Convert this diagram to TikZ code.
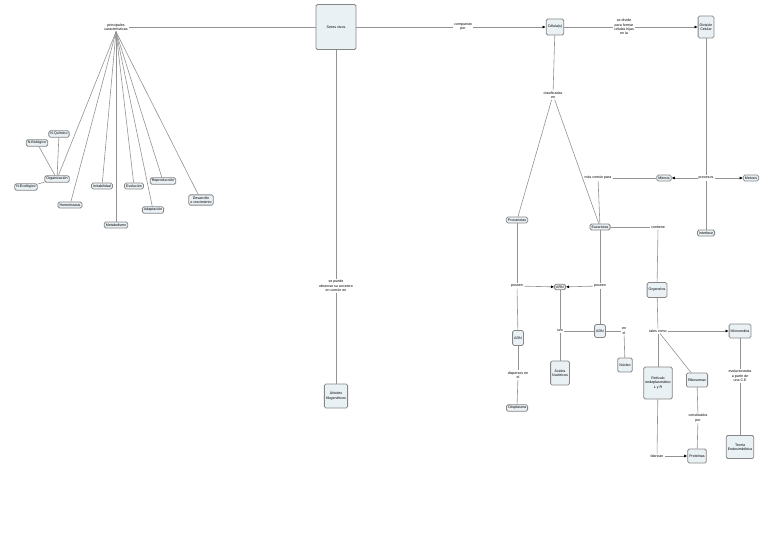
\documentclass[tikz,border=0pt]{standalone}
\usepackage{fontspec}
\setmainfont{Liberation Sans}
\usepackage{tikz}
\usetikzlibrary{arrows.meta, positioning}

\definecolor{boxfill}{RGB}{234,241,245}

\begin{document}
\begin{tikzpicture}[
    x=1pt, y=-1pt,
    concept/.style={
        rectangle, draw=gray!95, rounded corners=1.5pt,
        fill=boxfill, line width=0.8pt,
        inner sep=1.6pt, align=center,
        font=\fontsize{3.6}{4.4}\selectfont
    },
    link/.style={
        fill=white, inner sep=1pt, align=center,
        font=\fontsize{3.6}{4.4}\selectfont
    },
    line/.style={draw=gray!85, line width=0.6pt},
    arrow/.style={line, -{Latex[length=3.2pt, width=3pt, black]}}
]
\useasboundingbox (0,0) rectangle (768,543);

% ── Seres vivos y caracteristicas (izquierda) ──
\node[concept, minimum width=40, minimum height=45] (seres) at (336,27) {Seres vivos};
\node[link] (carac) at (116,27) {principales\\características};
\node[concept] (org) at (57,179) {Organización};
\node[concept] (nbio) at (37,143) {N.Biológico};
\node[concept] (nqui) at (59,134) {N.Químico};
\node[concept] (neco) at (26,187) {N.Ecológico};
\node[concept] (homeo) at (70,205) {Homeóstasis};
\node[concept] (irrit) at (102,186) {Irritabilidad};
\node[concept] (metab) at (116,225) {Metabolismo};
\node[concept] (evolu) at (134,186) {Evolución};
\node[concept] (repro) at (163,181) {Reproducción};
\node[concept] (adapt) at (153,210) {Adaptación};
\node[concept] (desa) at (201,200) {Desarrollo\\o crecimiento};

\draw[line] (carac) -- (seres);
\foreach \c in {org, homeo, irrit, metab, evolu, repro, adapt, desa}
    \draw[line] (carac.south) -- (\c);
\draw[line] (org) -- (nbio);
\draw[line] (org) -- (nqui);
\draw[line] (org) -- (neco);

% ── Ancestro comun ──
\node[link] (observar) at (336,286) {se puede\\observar su ancestro\\en común en};
\node[concept, minimum height=24] (arboles) at (336,396) {Árboles\\filogenéticos};
\draw[line] (seres) -- (observar);
\draw[line] (observar) -- (arboles);

% ── Celulas y division ──
\node[link] (comp) at (463,27) {compuesto\\por};
\node[concept, minimum height=16] (cel) at (555,27) {Célula(s)};
\node[link] (divide) at (624,27) {se divide\\para formar\\células hijas\\en la};
\node[concept, minimum height=22] (divcel) at (706,27) {División\\Celular};
\node[link] (procesos) at (706,178) {procesos};
\node[concept] (mitosis) at (664,178) {Mitosis};
\node[concept] (meiosis) at (751,178) {Meiosis};
\node[concept] (interfase) at (706,233) {Interfase};

\draw[line] (seres) -- (comp);
\draw[arrow] (comp) -- (cel);
\draw[line] (cel) -- (divide);
\draw[arrow] (divide) -- (divcel);
\draw[line] (divcel) -- (procesos);
\draw[line] (procesos) -- (interfase);
\draw[arrow] (procesos) -- (mitosis);
\draw[arrow] (procesos) -- (meiosis);

% ── Clasificacion ──
\node[link] (clas) at (553,95) {clasificadas\\en};
\node[concept] (proc) at (517,220) {Procariotas};
\node[concept] (euc) at (600,227) {Eucariotas};
\node[link] (comun) at (598,178) {más común para};
\node[link] (contiene) at (658,227) {contiene};

\draw[line] (cel) -- (clas);
\draw[line] (clas) -- (proc);
\draw[line] (clas) -- (euc);
\draw[line] (euc) -- (comun);
\draw[line] (comun) -- (mitosis);
\draw[line] (euc) -- (contiene);

% ── Material genetico ──
\node[link] (poseenp) at (517,286) {poseen};
\node[link] (poseene) at (600,286) {poseen};
\node[concept] (arn) at (560,287) {ARN};
\node[concept, minimum height=15] (adnp) at (518,338) {ADN};
\node[concept, minimum height=13] (adne) at (600,331) {ADN};
\node[link] (dispersos) at (518,375) {dispersos en\\el};
\node[concept] (citoplasma) at (517,408) {Citoplasma};
\node[link] (son) at (560,331) {son};
\node[concept, minimum height=24] (acidos) at (560,373) {Ácidos\\Nucleicos};
\node[link] (enel) at (624,331) {en\\el};
\node[concept, minimum height=14] (nucleo) at (625,365) {Núcleo};

\draw[line] (proc) -- (poseenp);
\draw[arrow] (poseenp) -- (arn);
\draw[line] (poseenp) -- (adnp);
\draw[line] (adnp) -- (dispersos);
\draw[line] (dispersos) -- (citoplasma);
\draw[line] (euc) -- (poseene);
\draw[arrow] (poseene) -- (arn);
\draw[line] (poseene) -- (adne);
\draw[line] (arn) -- (son);
\draw[line] (son) -- (acidos);
\draw[line] (son) -- (adne);
\draw[line] (adne) -- (enel);
\draw[line] (enel) -- (nucleo);

% ── Organelos ──
\node[concept, minimum height=15] (organelos) at (657,290) {Organelos};
\node[link] (tales) at (658,331) {tales como};
\node[concept, minimum height=14] (mitocondria) at (740,331) {Mitocondria};
\node[concept, minimum height=32] (reticulo) at (658,383) {Retículo\\endoplasmático\\L y R};
\node[concept, minimum height=14] (ribosomas) at (697,380) {Ribosomas};
\node[link] (evol) at (740,376) {evolucionadas\\a partir de\\una C.E};
\node[concept, minimum height=23] (teoria) at (740,447) {Teoría\\Endosimbiótica};
\node[link] (constit) at (698,418) {constituidos\\por};
\node[link] (fabrican) at (657,456) {fabrican};
\node[concept, minimum height=14] (proteinas) at (697,456) {Proteínas};

\draw[line] (contiene) -- (organelos);
\draw[line] (organelos) -- (tales);
\draw[arrow] (tales) -- (mitocondria);
\draw[line] (tales) -- (reticulo);
\draw[line] (tales) -- (ribosomas);
\draw[line] (mitocondria) -- (evol);
\draw[line] (evol) -- (teoria);
\draw[line] (ribosomas) -- (constit);
\draw[line] (constit) -- (proteinas);
\draw[line] (reticulo) -- (fabrican);
\draw[arrow] (fabrican) -- (proteinas);

\end{tikzpicture}
\end{document}
